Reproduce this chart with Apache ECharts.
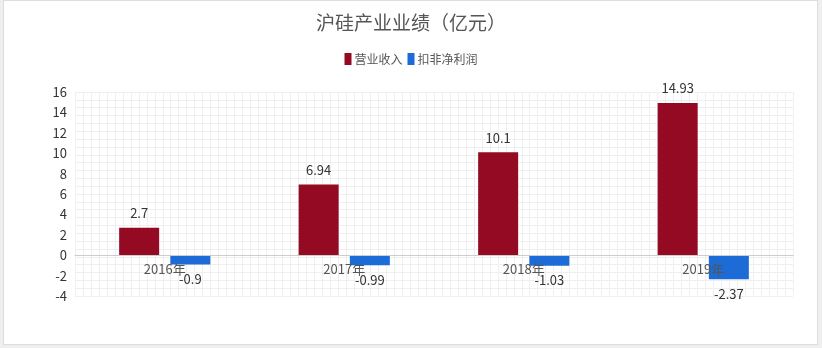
<!DOCTYPE html>
<html>
<head>
<meta charset="utf-8">
<script src="https://cdn.jsdelivr.net/npm/echarts@6/dist/echarts.min.js"></script>
<style>
    html, body { margin: 0; padding: 0; background: #efefef; }
    #panel { position: absolute; left: 3px; top: 0; width: 813px; height: 343px; background: #fff; border: 1px solid #ddd; }
    #chart { position: absolute; left: 0; top: 0; width: 822px; height: 348px; }
</style>
</head>
<body>
<div id="panel"></div>
<div id="chart"></div>
<script>
var categories = ['2016年', '2017年', '2018年', '2019年'];
var revenue = [2.7, 6.94, 10.1, 14.93];
var netProfit = [-0.9, -0.99, -1.03, -2.37];
var yTicks = [-4, -2, 0, 2, 4, 6, 8, 10, 12, 14, 16];

var FONT = '"Microsoft YaHei", "Noto Sans CJK SC", sans-serif';
var chart = echarts.init(document.getElementById('chart'));

// 背景网格线（仅作装饰）
var gridLine = { show: true, lineStyle: { color: '#efefef', width: 1 } };

var option = {
    textStyle: { fontFamily: FONT },
    title: {
        text: '沪硅产业业绩（亿元）',
        left: 'center',
        top: 8,
        textStyle: { fontSize: 19, fontWeight: 'normal', color: '#555', fontFamily: FONT }
    },
    legend: {
        top: 48,
        left: 'center',
        itemWidth: 7,
        itemHeight: 12,
        itemGap: 5,
        icon: 'rect',
        textStyle: { fontSize: 12, color: '#555', padding: [0, 0, 0, -2] },
        data: ['营业收入', '扣非净利润']
    },
    grid: { left: 75, right: 29, top: 92, bottom: 52 },
    xAxis: [
        {
            type: 'category',
            data: categories,
            position: 'bottom',
            axisTick: { show: false },
            axisLine: { onZero: true, onZeroAxisIndex: 0, lineStyle: { color: '#ccc' } },
            // 标签贴近零轴
            axisLabel: { color: '#555', fontSize: 13, margin: -33 },
            splitLine: { show: false },
            z: 5
        },
        {
            type: 'value',
            position: 'top',
            min: 0, max: 90, interval: 1,
            axisLine: { show: false }, axisTick: { show: false }, axisLabel: { show: false },
            splitLine: gridLine
        }
    ],
    yAxis: [
        {
            type: 'value',
            position: 'left',
            min: yTicks[0],
            max: yTicks[yTicks.length - 1],
            interval: 2,
            axisLine: { show: false },
            axisTick: { show: false },
            axisLabel: { color: '#333', fontSize: 13, margin: 8 },
            splitLine: { show: false }
        },
        {
            type: 'value',
            position: 'right',
            min: 0, max: 26, interval: 1,
            axisLine: { show: false, onZero: false }, axisTick: { show: false }, axisLabel: { show: false },
            splitLine: gridLine
        }
    ],
    series: [
        {
            name: '营业收入',
            type: 'bar',
            data: revenue,
            barWidth: 40,
            barGap: '28%',
            itemStyle: { color: '#950A23' },
            label: { show: true, position: 'top', distance: 8, color: '#333', fontSize: 13 }
        },
        {
            name: '扣非净利润',
            type: 'bar',
            data: netProfit,
            barWidth: 40,
            itemStyle: { color: '#1D6BD6' },
            label: { show: true, position: 'bottom', distance: 8, color: '#333', fontSize: 13 }
        }
    ]
};

chart.setOption(option);
</script>
</body>
</html>
